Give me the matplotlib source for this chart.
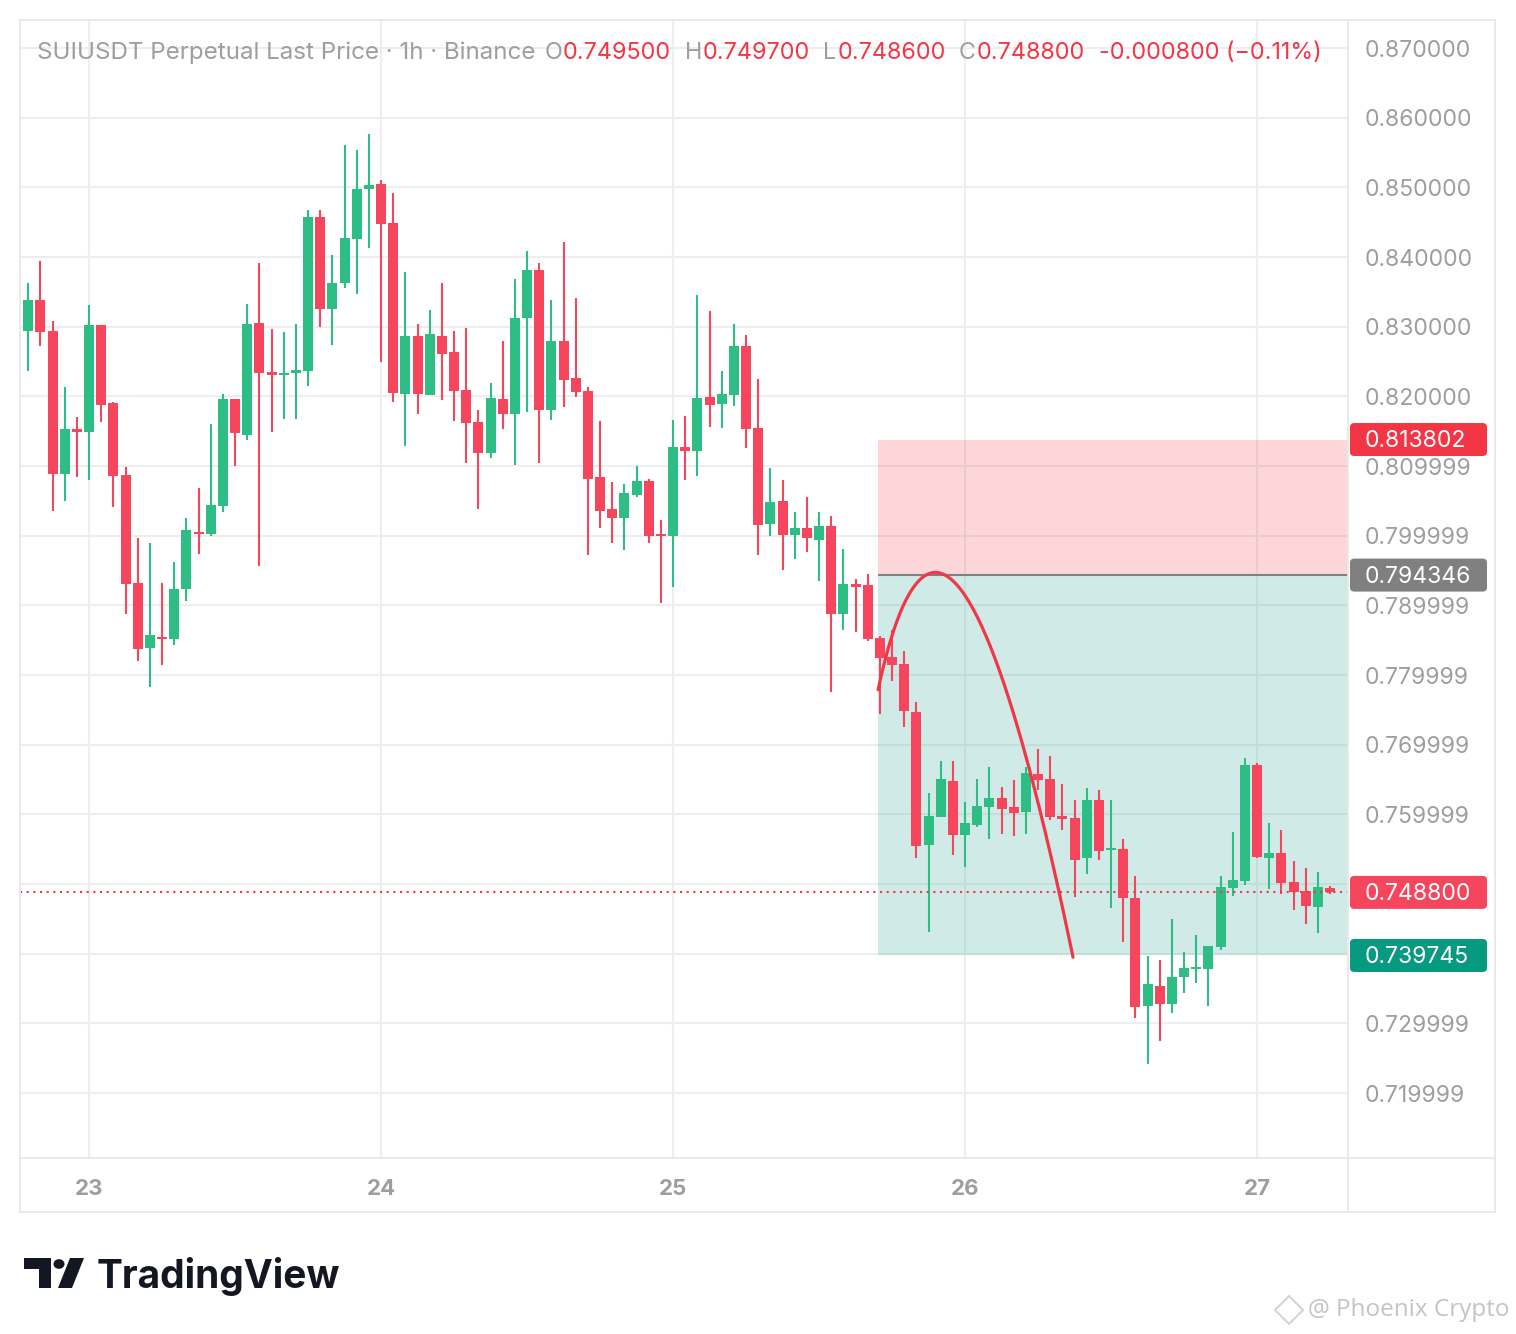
import numpy as np
import pandas as pd
import matplotlib
matplotlib.use('Agg')
import matplotlib.pyplot as plt
from matplotlib.patches import Rectangle, FancyBboxPatch, Polygon, Circle
from matplotlib.lines import Line2D

plt.rcParams['font.family'] = ['Inter', 'DejaVu Sans']

# figure size in pixels
W, H = 1516, 1334

# hourly candles, 22 Dec 19:00 -> 27 Dec 06:00
opens = [0.8294, 0.8338, 0.8294, 0.8088, 0.8153, 0.8149, 0.8303, 0.8190, 0.8087, 0.7932,
         0.7839, 0.7855, 0.7852, 0.7923, 0.8006, 0.8002, 0.8043, 0.8196, 0.8145, 0.8306,
         0.8235, 0.8231, 0.8233, 0.8237, 0.8458, 0.8326, 0.8362, 0.8426, 0.8497, 0.8505,
         0.8449, 0.8204, 0.8287, 0.8202, 0.8287, 0.8263, 0.8209, 0.8163, 0.8119, 0.8196,
         0.8175, 0.8313, 0.8382, 0.8181, 0.8279, 0.8226, 0.8207, 0.8084, 0.8038, 0.8026,
         0.8059, 0.8078, 0.8002, 0.7999, 0.8127, 0.8122, 0.8199, 0.8189, 0.8202, 0.8272,
         0.8155, 0.8017, 0.8050, 0.8001, 0.8011, 0.7994, 0.8014, 0.7888, 0.7931, 0.7929,
         0.7853, 0.7826, 0.7816, 0.7747, 0.7556, 0.7596, 0.7648, 0.7571, 0.7585, 0.7611,
         0.7624, 0.7610, 0.7604, 0.7658, 0.7651, 0.7598, 0.7595, 0.7537, 0.7621, 0.7549,
         0.7551, 0.7480, 0.7325, 0.7354, 0.7328, 0.7366, 0.7378, 0.7378, 0.7410, 0.7495,
         0.7505, 0.7671, 0.7538, 0.7544, 0.7503, 0.7490, 0.7467, 0.7495]
highs = [0.8363, 0.8394, 0.8308, 0.8214, 0.8170, 0.8331, 0.8303, 0.8192, 0.8098, 0.7996,
         0.7989, 0.7932, 0.7962, 0.8025, 0.8068, 0.8160, 0.8204, 0.8196, 0.8332, 0.8392,
         0.8296, 0.8293, 0.8304, 0.8468, 0.8468, 0.8403, 0.8561, 0.8553, 0.8576, 0.8510,
         0.8492, 0.8378, 0.8304, 0.8324, 0.8363, 0.8294, 0.8298, 0.8180, 0.8219, 0.8280,
         0.8368, 0.8408, 0.8392, 0.8338, 0.8421, 0.8341, 0.8213, 0.8164, 0.8077, 0.8074,
         0.8100, 0.8081, 0.8023, 0.8166, 0.8172, 0.8345, 0.8322, 0.8236, 0.8304, 0.8288,
         0.8225, 0.8097, 0.8080, 0.8034, 0.8055, 0.8034, 0.8028, 0.7981, 0.7938, 0.7945,
         0.7856, 0.7864, 0.7835, 0.7762, 0.7630, 0.7676, 0.7676, 0.7618, 0.7651, 0.7668,
         0.7640, 0.7650, 0.7668, 0.7694, 0.7684, 0.7643, 0.7620, 0.7638, 0.7635, 0.7620,
         0.7565, 0.7512, 0.7397, 0.7391, 0.7450, 0.7403, 0.7427, 0.7411, 0.7512, 0.7574,
         0.7681, 0.7674, 0.7588, 0.7577, 0.7533, 0.7523, 0.7518, 0.7497]
lows = [0.8237, 0.8272, 0.8036, 0.8050, 0.8084, 0.8080, 0.8163, 0.8041, 0.7888, 0.7820,
        0.7783, 0.7814, 0.7843, 0.7906, 0.7974, 0.7999, 0.8034, 0.8100, 0.8138, 0.7957,
        0.8149, 0.8167, 0.8167, 0.8215, 0.8300, 0.8274, 0.8355, 0.8347, 0.8413, 0.8250,
        0.8192, 0.8129, 0.8175, 0.8202, 0.8195, 0.8164, 0.8104, 0.8038, 0.8111, 0.8153,
        0.8102, 0.8177, 0.8104, 0.8166, 0.8184, 0.8199, 0.7972, 0.8011, 0.7990, 0.7980,
        0.8056, 0.7990, 0.7903, 0.7927, 0.8080, 0.8086, 0.8156, 0.8155, 0.8186, 0.8126,
        0.7972, 0.8000, 0.7951, 0.7967, 0.7976, 0.7935, 0.7775, 0.7865, 0.7862, 0.7849,
        0.7744, 0.7791, 0.7725, 0.7538, 0.7431, 0.7596, 0.7541, 0.7524, 0.7582, 0.7565,
        0.7572, 0.7569, 0.7572, 0.7635, 0.7592, 0.7578, 0.7481, 0.7514, 0.7534, 0.7465,
        0.7417, 0.7308, 0.7241, 0.7275, 0.7315, 0.7344, 0.7358, 0.7325, 0.7406, 0.7483,
        0.7499, 0.7538, 0.7493, 0.7486, 0.7463, 0.7442, 0.7430, 0.7486]
closes = [0.8338, 0.8292, 0.8088, 0.8153, 0.8149, 0.8303, 0.8188, 0.8086, 0.7931, 0.7837,
          0.7857, 0.7852, 0.7924, 0.8008, 0.8002, 0.8044, 0.8196, 0.8147, 0.8304, 0.8233,
          0.8230, 0.8234, 0.8238, 0.8458, 0.8326, 0.8363, 0.8428, 0.8497, 0.8504, 0.8448,
          0.8205, 0.8287, 0.8204, 0.8289, 0.8261, 0.8208, 0.8162, 0.8119, 0.8197, 0.8175,
          0.8313, 0.8382, 0.8181, 0.8279, 0.8224, 0.8206, 0.8082, 0.8036, 0.8026, 0.8061,
          0.8078, 0.8000, 0.7999, 0.8127, 0.8122, 0.8198, 0.8188, 0.8203, 0.8272, 0.8153,
          0.8016, 0.8048, 0.8001, 0.8011, 0.7996, 0.8014, 0.7888, 0.7931, 0.7927, 0.7852,
          0.7825, 0.7814, 0.7748, 0.7554, 0.7597, 0.7651, 0.7571, 0.7587, 0.7612, 0.7624,
          0.7608, 0.7602, 0.7660, 0.7650, 0.7596, 0.7594, 0.7535, 0.7621, 0.7548, 0.7552,
          0.7480, 0.7324, 0.7356, 0.7328, 0.7366, 0.7380, 0.7381, 0.7411, 0.7496, 0.7506,
          0.7671, 0.7539, 0.7544, 0.7502, 0.7489, 0.7469, 0.7496, 0.7488]

# axis ticks
day_ticks = [5, 29, 53, 77, 101]
day_labels = ['23', '24', '25', '26', '27']
price_ticks = [0.87, 0.86, 0.85, 0.84, 0.83, 0.82, 0.81, 0.80, 0.79, 0.78,
               0.77, 0.76, 0.75, 0.74, 0.73, 0.72]
price_labels = ['0.870000', '0.860000', '0.850000', '0.840000', '0.830000', '0.820000',
                '0.809999', '0.799999', '0.789999', '0.779999', '0.769999', '0.759999',
                '', '', '0.729999', '0.719999']

# position tool + drawing
last_price = 0.7488
entry = 0.794346
stop = 0.813802
target = 0.739745
pos_start = 69.85
curve_pts = [(69.85, 0.7779), (75.7, 0.8252), (85.87, 0.7395)]

df = pd.DataFrame({'open': opens, 'high': highs, 'low': lows, 'close': closes})
df['idx'] = np.arange(len(df))

up_col = '#2ebd85'
down_col = '#f6465d'
grey_txt = '#9e9e9e'
grid_col = '#eeeeee'

fig = plt.figure(figsize=(W / 100, H / 100), dpi=100)
fig.patch.set_facecolor('white')

def fx(x):
    return x / W

def fy(y):
    return 1 - y / H

ax = fig.add_axes([fx(20), fy(1158), 1328 / W, 1138 / H])
ax.set_xlim(-0.674, 108.47)
ax.set_ylim(0.710678, 0.874019)
for s in ax.spines.values():
    s.set_visible(False)

# grid + ticks
ax.set_xticks(day_ticks)
ax.set_xticklabels(day_labels)
ax.set_yticks(price_ticks)
ax.set_yticklabels(price_labels)
ax.yaxis.tick_right()
ax.grid(True, color=grid_col, linewidth=1.5, zorder=0)
ax.set_axisbelow(True)
ax.tick_params(axis='y', length=0, pad=12, labelsize=16.5, labelcolor=grey_txt)
ax.tick_params(axis='x', length=0, pad=15, labelsize=16, labelcolor=grey_txt)
for t in ax.get_xticklabels():
    t.set_fontweight('bold')

# long/short position zones
ax.add_patch(Rectangle((pos_start, entry), 200, stop - entry,
                       facecolor=(242/255, 54/255, 69/255, 0.2), edgecolor='none', zorder=1))
ax.add_patch(Rectangle((pos_start, target), 200, entry - target,
                       facecolor=(8/255, 153/255, 129/255, 0.19), edgecolor='none', zorder=1))
ax.hlines(entry, pos_start, 200, color='#808080', linewidth=1.5, zorder=2)

# candles
colors = np.where(df['close'] >= df['open'], up_col, down_col)
ax.vlines(df['idx'], df['low'], df['high'], colors=colors, linewidth=1.5, zorder=3)
body_low = np.minimum(df['open'], df['close'])
body_h = np.maximum((df['close'] - df['open']).abs(), 0.00012)
ax.bar(df['idx'], body_h, bottom=body_low, width=0.82, color=colors, linewidth=0, zorder=3)

# last price dotted line
ax.axhline(last_price, color='#f23645', linewidth=1.5, linestyle=(0, (1, 2.2)), zorder=3.5)

# hand-drawn arc (quadratic bezier)
p = np.array(curve_pts)
t = np.linspace(0, 1, 200)[:, None]
bez = (1 - t) ** 2 * p[0] + 2 * t * (1 - t) * p[1] + t ** 2 * p[2]
ax.plot(bez[:, 0], bez[:, 1], color='#f23645', linewidth=2.3, solid_capstyle='round', zorder=4)

# frame lines
frame = '#e8e8e8'
for xs, ys in [((20, 1495), (20, 20)), ((20, 1495), (1212, 1212)), ((20, 20), (20, 1212)),
               ((1495, 1495), (20, 1212)), ((1348, 1348), (20, 1212)), ((20, 1495), (1158, 1158))]:
    fig.add_artist(Line2D([fx(v) for v in xs], [fy(v) for v in ys], color=frame, linewidth=1.3))

# price badges on the right axis
def badge(price, label, color):
    yd = ax.transData.transform((0, price))[1]
    yf = yd / fig.bbox.height
    fig.add_artist(FancyBboxPatch((fx(1350), yf - 16.5 / H), 137 / W, 33 / H,
                                  boxstyle='round,pad=0,rounding_size=0.003',
                                  facecolor=color, edgecolor='none', transform=fig.transFigure))
    fig.text(fx(1365), yf - 1.5 / H, label, color='white', fontsize=16.5, va='center', ha='left')

badge(stop, '0.813802', '#f23645')
badge(entry, '0.794346', '#808080')
badge(last_price, '0.748800', '#f6465d')
badge(target, '0.739745', '#089981')

# header legend
hy = fy(53)
fig.text(fx(37), hy, 'SUIUSDT Perpetual Last Price · 1h · Binance', color=grey_txt, fontsize=17.4, va='center')
hdr = [(545, 'O', grey_txt), (563, '0.749500', '#f23645'),
       (685, 'H', grey_txt), (703, '0.749700', '#f23645'),
       (823, 'L', grey_txt), (838, '0.748600', '#f23645'),
       (959, 'C', grey_txt), (977, '0.748800', '#f23645'),
       (1099, '-0.000800 (\u22120.11%)', '#f23645')]
for x, s, c in hdr:
    fig.text(fx(x), hy, s, color=c, fontsize=16.8, va='center')

# TradingView logo
logo = '#131722'
fig.add_artist(Polygon([(fx(24), fy(1258)), (fx(51), fy(1258)), (fx(51), fy(1288)),
                        (fx(39), fy(1288)), (fx(39), fy(1269)), (fx(24), fy(1269))],
                       closed=True, facecolor=logo, edgecolor='none'))
fig.add_artist(Circle((fx(59), fy(1264)), 5.5 / W, facecolor=logo, edgecolor='none'))
fig.add_artist(Polygon([(fx(70), fy(1258)), (fx(84), fy(1258)), (fx(72), fy(1288)), (fx(58), fy(1288))],
                       closed=True, facecolor=logo, edgecolor='none'))
fig.text(fx(97), fy(1276), 'TradingView', color=logo, fontsize=28, fontweight='bold', va='center')

# watermark
fig.add_artist(Line2D([fx(1289)], [fy(1310)], marker='D', markersize=14, markerfacecolor='none',
                      markeredgecolor='#d4d4d4', markeredgewidth=1.5))
fig.text(fx(1308), fy(1310), '@ Phoenix Crypto', color='#c4c4c4', fontsize=17.5,
         family=['Open Sans', 'DejaVu Sans'], va='center')

fig.savefig('out.png', dpi=100, facecolor='white')
